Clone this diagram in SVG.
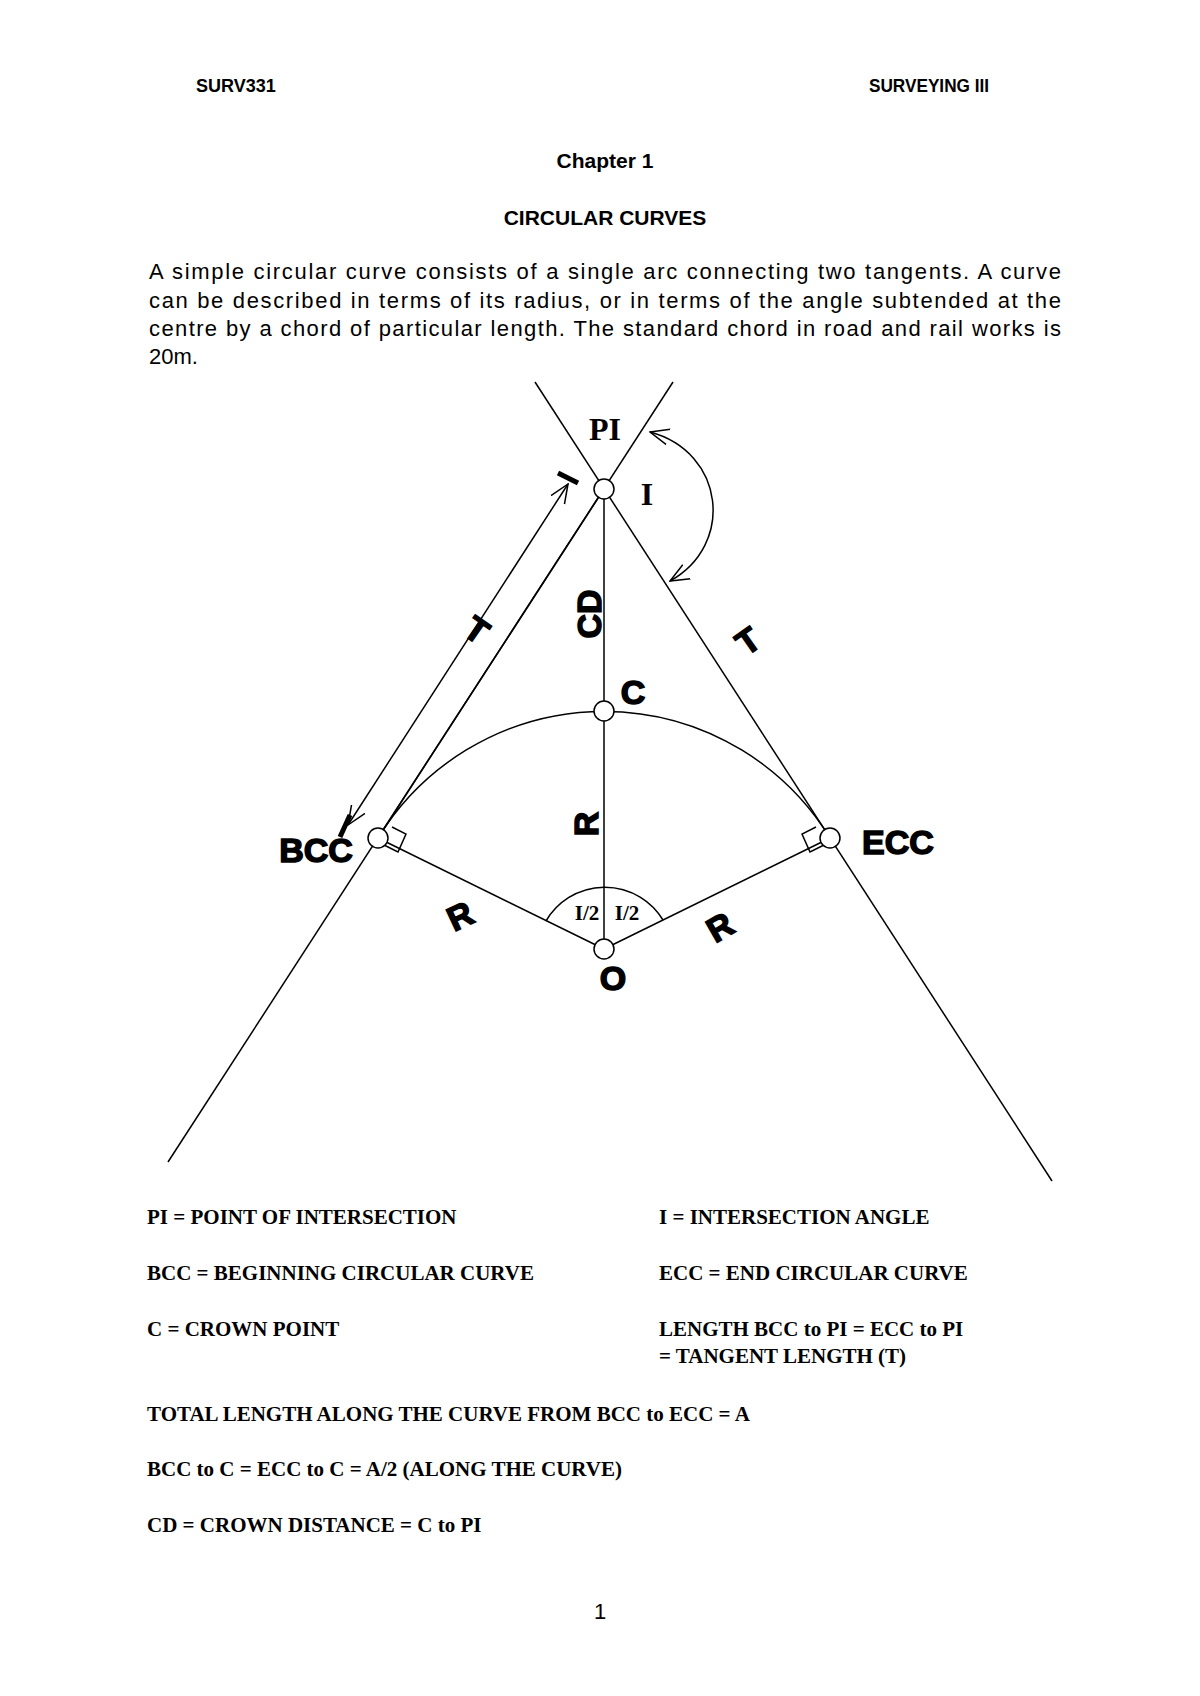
<svg xmlns="http://www.w3.org/2000/svg" width="1200" height="1696" viewBox="0 0 1200 1696">
<style>
.h{font-family:"Liberation Sans",Arial,sans-serif;font-size:18px;font-weight:bold}
.p{font-family:"Liberation Sans",Arial,sans-serif;font-size:22px}
.t{font-family:"Liberation Sans",Arial,sans-serif;font-size:21px;font-weight:bold}
.lg{font-family:"Liberation Serif","Times New Roman",serif;font-size:21px;font-weight:bold}
.bl{font-family:"Liberation Sans",Arial,sans-serif;font-size:34px;font-weight:bold;stroke:#000;stroke-width:1.5}
.sf{font-family:"Liberation Serif",serif;font-size:32px;font-weight:bold}
.ln{stroke:#000;stroke-width:1.5;fill:none}
.nd{fill:#fff;stroke:#000;stroke-width:1.5}
</style>
<defs>
<marker id="ar" viewBox="0 0 20 20" refX="19" refY="10" markerWidth="20" markerHeight="20" markerUnits="userSpaceOnUse" orient="auto-start-reverse">
<path d="M0,2 L19,10 L0,18" fill="none" stroke="#000" stroke-width="1.5"/>
</marker>
</defs>
<rect width="1200" height="1696" fill="#fff"/>
<text class="h" x="196" y="92">SURV331</text>
<text class="h" x="989" y="92" text-anchor="end" textLength="120" lengthAdjust="spacingAndGlyphs">SURVEYING III</text>
<text class="t" x="605" y="168" text-anchor="middle">Chapter 1</text>
<text class="t" x="605" y="225" text-anchor="middle">CIRCULAR CURVES</text>
<text class="p" x="149" y="279" textLength="912" lengthAdjust="spacing">A simple circular curve consists of a single arc connecting two tangents. A curve</text>
<text class="p" x="149" y="308" textLength="912" lengthAdjust="spacing">can be described in terms of its radius, or in terms of the angle subtended at the</text>
<text class="p" x="149" y="336" textLength="912" lengthAdjust="spacing">centre by a chord of particular length. The standard chord in road and rail works is</text>
<text class="p" x="149" y="364">20m.</text>
<g id="connectors">
<line class="ln" x1="168" y1="1162" x2="673" y2="382"/>
<line class="ln" x1="535" y1="382" x2="1052" y2="1181"/>
<line class="ln" x1="604" y1="489" x2="378" y2="838"/>
<line class="ln" x1="604" y1="489" x2="604" y2="949"/>
<line class="ln" x1="378" y1="838" x2="604" y2="949"/>
<line class="ln" x1="830" y1="838" x2="604" y2="949"/>
<path class="ln" d="M378,838 A265,265 0 0 1 830,838"/>
<line class="ln" x1="568" y1="484" x2="348" y2="825" marker-start="url(#ar)" marker-end="url(#ar)"/>
<line x1="558" y1="473" x2="578" y2="483" stroke="#000" stroke-width="5"/>
<line x1="340" y1="837" x2="350" y2="815" stroke="#000" stroke-width="5"/>
<path class="ln" d="M650,432 C725,452 735,545 670,581" marker-start="url(#ar)" marker-end="url(#ar)"/>
<path class="ln" d="M392,827 L406,834 L398,852 L384,845"/>
<path class="ln" d="M816,827 L802,834 L810,852 L824,845"/>
<path class="ln" d="M546,921 A68,68 0 0 1 663,920"/>
</g>
<g id="PI"><circle class="nd" cx="604" cy="489" r="10"/><text class="sf" x="605" y="440" text-anchor="middle">PI</text><text class="sf" x="647" y="505" text-anchor="middle">I</text></g>
<g id="C"><circle class="nd" cx="604" cy="711" r="10"/><text class="bl" x="633" y="704" text-anchor="middle">C</text></g>
<g id="O"><circle class="nd" cx="604" cy="949" r="10"/><text class="bl" x="613" y="990" text-anchor="middle">O</text></g>
<g id="BCC"><circle class="nd" cx="378" cy="838" r="10"/><text class="bl" x="316" y="862" text-anchor="middle">BCC</text></g>
<g id="ECC"><circle class="nd" cx="830" cy="838" r="10"/><text class="bl" x="898" y="854" text-anchor="middle">ECC</text></g>
<g id="labels">
<text class="bl" transform="translate(477,630) rotate(35)" text-anchor="middle" y="12">T</text>
<text class="bl" transform="translate(748,641) rotate(-35)" text-anchor="middle" y="12">T</text>
<text class="bl" transform="translate(589,614) rotate(-90)" text-anchor="middle" y="12">CD</text>
<text class="bl" transform="translate(586,824) rotate(-90)" text-anchor="middle" y="12">R</text>
<text class="bl" transform="translate(460,916) rotate(-25)" text-anchor="middle" y="12">R</text>
<text class="bl" transform="translate(720,927) rotate(-30)" text-anchor="middle" y="12">R</text>
<text class="lg" x="587" y="920" text-anchor="middle" font-size="16">I/2</text>
<text class="lg" x="627" y="920" text-anchor="middle" font-size="16">I/2</text>
</g>
<g id="legend">
<text class="lg" x="147" y="1224">PI = POINT OF INTERSECTION</text>
<text class="lg" x="659" y="1224">I = INTERSECTION ANGLE</text>
<text class="lg" x="147" y="1280">BCC = BEGINNING CIRCULAR CURVE</text>
<text class="lg" x="659" y="1280">ECC = END CIRCULAR CURVE</text>
<text class="lg" x="147" y="1336">C = CROWN POINT</text>
<text class="lg" x="659" y="1336">LENGTH BCC to PI = ECC to PI</text>
<text class="lg" x="659" y="1363">= TANGENT LENGTH (T)</text>
<text class="lg" x="147" y="1421">TOTAL LENGTH ALONG THE CURVE FROM BCC to ECC = A</text>
<text class="lg" x="147" y="1476">BCC to C = ECC to C = A/2 (ALONG THE CURVE)</text>
<text class="lg" x="147" y="1532">CD = CROWN DISTANCE = C to PI</text>
</g>
<text class="p" x="600" y="1619" text-anchor="middle" font-size="20">1</text>
</svg>
